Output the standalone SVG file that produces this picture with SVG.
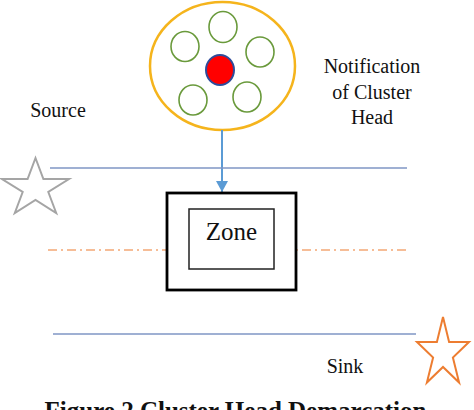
<svg xmlns="http://www.w3.org/2000/svg" width="474" height="410" viewBox="0 0 474 410">
<style>
.m{fill:none;stroke:#6a9a3c;stroke-width:1.6}
.bl{stroke:#7f96c4;stroke-width:1.6}
</style>
<defs>
<marker id="ah" markerWidth="12" markerHeight="12" refX="11" refY="6" orient="auto" markerUnits="userSpaceOnUse">
<path d="M0,0 L11,6 L0,12 Z" fill="#5b9bd5"/>
</marker>
</defs>
<rect width="474" height="410" fill="#fff"/>
<g id="cluster">
<ellipse cx="222.5" cy="66" rx="72.5" ry="64" fill="none" stroke="#f5b41c" stroke-width="2.5"/>
<ellipse class="m" cx="223" cy="27" rx="14" ry="15.5"/>
<ellipse class="m" cx="185" cy="46.5" rx="14" ry="15" stroke-width="2.4"/>
<ellipse class="m" cx="260" cy="52" rx="14" ry="15"/>
<ellipse class="m" cx="193" cy="100" rx="14" ry="15"/>
<ellipse class="m" cx="247" cy="97" rx="14" ry="15"/>
<ellipse cx="220" cy="70" rx="14" ry="15" fill="#ff0000" stroke="#2f4b9a" stroke-width="2"/>
</g>
<g id="connectors">
<line x1="222" y1="130" x2="222" y2="192" stroke="#5b9bd5" stroke-width="2" marker-end="url(#ah)"/>
<line class="bl" x1="50" y1="168" x2="407" y2="168"/>
<line x1="48" y1="250" x2="167" y2="250" stroke="#ed7d31" stroke-width="1.2" stroke-dasharray="9 4 2 4"/>
<line x1="296" y1="250" x2="406" y2="250" stroke="#ed7d31" stroke-width="1.2" stroke-dasharray="2 4 9 4"/>
<line class="bl" x1="53" y1="334" x2="416" y2="334"/>
</g>
<g id="zone">
<rect x="167" y="193" width="129" height="97" fill="none" stroke="#000" stroke-width="2.8"/>
<rect x="189" y="209" width="85" height="60" fill="none" stroke="#222" stroke-width="1.5"/>
<text x="231.5" y="240" font-family="Liberation Serif, serif" font-size="25" fill="#111" text-anchor="middle">Zone</text>
</g>
<g id="source">
<polygon points="35.5,158 43.4,179 69,179 48.3,192 56.2,213 35.5,200 14.8,213 22.7,192 2,179 27.6,179" fill="none" stroke="#a5a5a5" stroke-width="2"/>
<text x="58" y="117" font-family="Liberation Serif, serif" font-size="20" fill="#111" text-anchor="middle">Source</text>
</g>
<g id="sink">
<polygon points="443,317 449.1,342 469,342 452.9,357.5 459.1,382.5 443,367 426.9,382.5 433.1,357.5 417,342 436.9,342" fill="none" stroke="#ed7d31" stroke-width="2"/>
<text x="345" y="373" font-family="Liberation Serif, serif" font-size="20" fill="#111" text-anchor="middle">Sink</text>
</g>
<g id="notification">
<text font-family="Liberation Serif, serif" font-size="20" fill="#111" text-anchor="middle"><tspan x="372" y="73">Notification</tspan><tspan x="372" y="98.5">of Cluster</tspan><tspan x="372" y="124">Head</tspan></text>
</g>
<text x="235.5" y="418.5" font-family="Liberation Serif, serif" font-size="25" font-weight="bold" fill="#111" text-anchor="middle">Figure 2 Cluster Head Demarcation</text>
</svg>
